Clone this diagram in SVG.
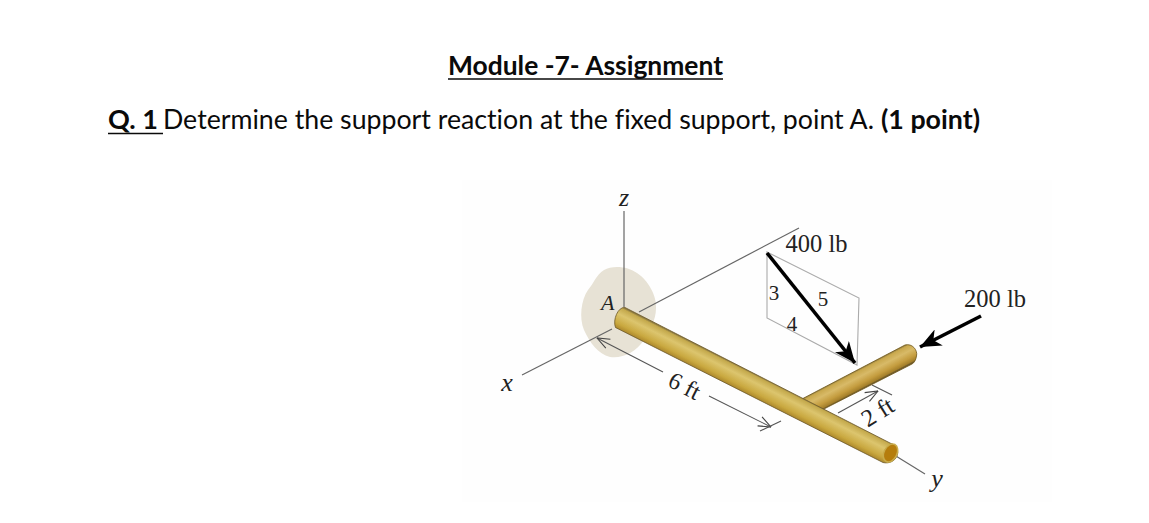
<svg xmlns="http://www.w3.org/2000/svg" width="1149" height="523" viewBox="0 0 1149 523">
<style>
.h{font-family:"Lato","Open Sans","Liberation Sans",sans-serif;fill:#0a0a0a;font-variant-ligatures:none}
.b{font-weight:700}
.s{font-family:"Liberation Serif","Times New Roman",serif;fill:#222;font-variant-ligatures:none}
.i{font-style:italic}
.ax{stroke:#666;stroke-width:1.2;fill:none}
.dim{stroke:#555;stroke-width:1.1;fill:none}
.box{stroke:#aaa;stroke-width:1.1;fill:none}
.force{stroke:#000;stroke-width:3.600;fill:none}
.ul{stroke:#0a0a0a;stroke-width:1.7}
</style>
<defs>
<filter id="soft" x="-5%" y="-5%" width="110%" height="110%"><feGaussianBlur stdDeviation="0.4"/></filter>
<linearGradient id="rod2" gradientUnits="userSpaceOnUse" x1="860" y1="368.400" x2="868.800" y2="385.300">
<stop offset="0" stop-color="#8a7840"/><stop offset=".1" stop-color="#c9a84d"/><stop offset=".38" stop-color="#d8ba68"/><stop offset=".72" stop-color="#c49c3e"/><stop offset=".94" stop-color="#a47f2a"/><stop offset="1" stop-color="#6e5a2a"/>
</linearGradient>
<linearGradient id="rod1" gradientUnits="userSpaceOnUse" x1="758" y1="375.600" x2="748" y2="395.400">
<stop offset="0" stop-color="#8a7840"/><stop offset=".07" stop-color="#c4a94c"/><stop offset=".35" stop-color="#dcc56e"/><stop offset=".75" stop-color="#c9a83f"/><stop offset=".93" stop-color="#b08c2e"/><stop offset="1" stop-color="#6e5a2a"/>
</linearGradient>
<marker id="open" viewBox="0 0 14 12" refX="13.500" refY="6" markerWidth="14" markerHeight="12" markerUnits="userSpaceOnUse" orient="auto">
<path d="M1 1 L13.500 6 L1 11" fill="none" stroke="#444" stroke-width="1.100"/>
</marker>
<marker id="solid" viewBox="0 0 22 18" refX="21" refY="9" markerWidth="22" markerHeight="18" markerUnits="userSpaceOnUse" orient="auto">
<path d="M0 0 L21 9 L0 18 L6 9 Z" fill="#000"/>
</marker>
</defs>
<rect width="1149" height="523" fill="#fff"/>
<rect x="462" y="180" width="590" height="322" fill="#fefefe"/>

<g id="title">
<text class="h b" x="448" y="75" font-size="26" textLength="275" lengthAdjust="spacingAndGlyphs">Module -7- Assignment</text>
<line class="ul" x1="448" y1="79" x2="723" y2="79"/>
</g>
<g id="question">
<text class="h b" x="108" y="129" font-size="26" textLength="50" lengthAdjust="spacingAndGlyphs">Q. 1</text>
<line class="ul" x1="108" y1="133.500" x2="163" y2="133.500"/>
<text class="h" x="163" y="129" font-size="26" textLength="711" lengthAdjust="spacingAndGlyphs">Determine the support reaction at the fixed support, point A.</text>
<text class="h b" x="881" y="129" font-size="26" textLength="99" lengthAdjust="spacingAndGlyphs">(1 point)</text>
</g>

<g id="wall" filter="url(#soft)">
<path d="M604 270 C612 265 628 266 637 273 C648 280 657 296 656 308 C656 320 650 330 644 340 C636 352 622 359 610 357 C598 354 590 343 584 330 C579 318 581 300 588 290 C594 283 596 275 604 270 Z" fill="#e7e2d5"/>
</g>

<g id="connectors">
<line class="ax" x1="624" y1="211" x2="624" y2="307"/>
<line class="ax" x1="522" y1="375" x2="612" y2="329"/>
<line class="ax" x1="639" y1="312" x2="799" y2="228"/>
<line class="ax" x1="891" y1="453" x2="925" y2="474"/>
<path class="box" d="M767 252 L859 298 L857 365 L767 318 Z"/>
<line class="dim" x1="663" y1="372" x2="597" y2="338" marker-end="url(#open)"/>
<line class="dim" x1="709" y1="396" x2="771" y2="427" marker-end="url(#open)"/>
<line class="dim" x1="760" y1="431" x2="781" y2="421"/>
<line class="dim" x1="838" y1="413" x2="878" y2="391" marker-end="url(#open)"/>
<line class="dim" x1="872" y1="385" x2="892" y2="395"/>
<line class="force" x1="767" y1="253" x2="855" y2="363" marker-end="url(#solid)"/>
<line class="force" x1="981" y1="316" x2="920" y2="347" marker-end="url(#solid)"/>
</g>

<g id="branch-rod" filter="url(#soft)">
<path d="M800 400 L905 345 C912 343 918 350 916.500 356 C916 360 914 363 912 364 L822 410 Z" fill="url(#rod2)" stroke="#6e5518" stroke-width=".8"/>
</g>
<g id="main-rod" filter="url(#soft)">
<path d="M625 307.500 L891 443.500 C897 445 899 451 897 456 C895 461 889 464 883 462.500 L615.500 327.500 C612.500 320 618 306.500 625 307.500 Z" fill="url(#rod1)" stroke="#6e5a2a" stroke-width=".8"/>
<ellipse cx="890.500" cy="453" rx="6.500" ry="9.500" transform="rotate(27 890.500 453)" fill="#b57d10" stroke="#c9ac4c" stroke-width="1.500"/>
</g>

<g id="labels">
<text class="s i" x="624" y="206" font-size="26" text-anchor="middle">z</text>
<text class="s i" x="601" y="310" font-size="22">A</text>
<text class="s i" x="507" y="391" font-size="26" text-anchor="middle">x</text>
<text class="s i" x="937" y="487" font-size="26" text-anchor="middle">y</text>
<text class="s" x="816.500" y="252" font-size="24.500" text-anchor="middle">400 lb</text>
<text class="s" x="995" y="307" font-size="24.500" text-anchor="middle">200 lb</text>
<text class="s" x="774" y="300" font-size="21" text-anchor="middle">3</text>
<text class="s" x="823" y="306" font-size="21" text-anchor="middle">5</text>
<text class="s" x="792" y="331" font-size="21" text-anchor="middle">4</text>
<text class="s" font-size="24" text-anchor="middle" transform="translate(681 393) rotate(27)">6 ft</text>
<text class="s" font-size="24.500" text-anchor="middle" transform="translate(882 419) rotate(-32)">2 ft</text>
</g>
</svg>
